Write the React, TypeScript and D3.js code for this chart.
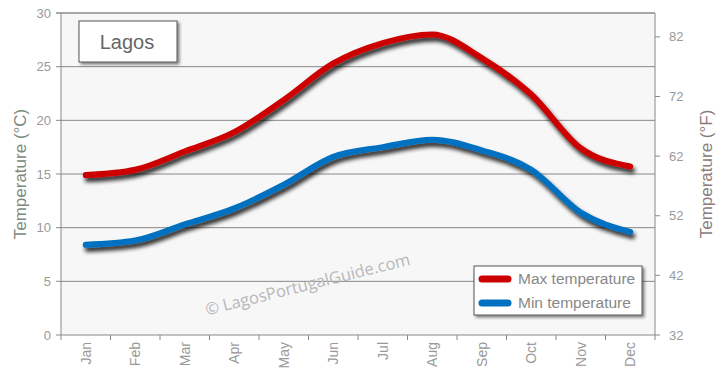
import React from "react";
import * as d3 from "d3";

const months = ["Jan","Feb","Mar","Apr","May","Jun","Jul","Aug","Sep","Oct","Nov","Dec"];
const maxTemp = [14.9, 15.4, 17.1, 18.9, 21.9, 25.3, 27.2, 28.0, 25.8, 22.4, 17.4, 15.7];
const minTemp = [8.4, 8.8, 10.3, 11.8, 14.0, 16.6, 17.5, 18.2, 17.2, 15.4, 11.4, 9.6];
const cTicks = [0, 5, 10, 15, 20, 25, 30];
const fTicks = [32, 42, 52, 62, 72, 82];
const title = "Lagos";
const legendLabels = ["Max temperature", "Min temperature"];
const colors = ["#cc0000", "#0070c0"];

export default function App() {
  const W = 720, H = 380;
  const L = 61, R = 655, T = 13, B = 335;
  const x = d3.scaleBand<string>().domain(months).range([L, R]);
  const y = d3.scaleLinear().domain([0, 30]).range([B, T]);
  const yF = d3.scaleLinear().domain([32, 86]).range([B, T]);
  const line = d3.line<number>()
    .x((_, i) => (x(months[i]) as number) + x.bandwidth() / 2)
    .y(d => y(d))
    .curve(d3.curveMonotoneX);
  const series = [maxTemp, minTemp];
  const font = "Arial, 'Liberation Sans', sans-serif";
  return (
    <svg width={W} height={H} style={{ position: "absolute", left: 0, top: 0 }} fontFamily={font}>
      <defs>
        <filter id="sh" x="-10%" y="-20%" width="130%" height="150%">
          <feGaussianBlur in="SourceAlpha" stdDeviation="2" />
          <feOffset dx="2" dy="3.5" result="b" />
          <feComponentTransfer><feFuncA type="linear" slope="0.85" /></feComponentTransfer>
          <feMerge><feMergeNode /><feMergeNode in="SourceGraphic" /></feMerge>
        </filter>
        <filter id="bsh" x="-10%" y="-20%" width="130%" height="150%">
          <feGaussianBlur in="SourceAlpha" stdDeviation="1.5" />
          <feOffset dx="2" dy="2" />
          <feComponentTransfer><feFuncA type="linear" slope="0.5" /></feComponentTransfer>
          <feMerge><feMergeNode /><feMergeNode in="SourceGraphic" /></feMerge>
        </filter>
      </defs>
      <rect x={0} y={0} width={W} height={H} fill="#fff" />
      <rect x={L} y={T} width={R - L} height={B - T} fill="#f7f7f7" />
      {cTicks.map(t => (
        <g key={t}>
          <line x1={L - 5} x2={R} y1={y(t)} y2={y(t)} stroke={t === 30 ? "#555" : "#888"} strokeWidth={1} />
          <text x={L - 10} y={y(t)} dy="0.35em" textAnchor="end" fontSize={13} fill="#999">{t}</text>
        </g>
      ))}
      <line x1={L} x2={L} y1={T} y2={B + 5} stroke="#888" />
      <line x1={R} x2={R} y1={T} y2={B} stroke="#888" />
      {fTicks.map(t => (
        <g key={t}>
          <line x1={R} x2={R + 5} y1={yF(t)} y2={yF(t)} stroke="#888" />
          <text x={R + 14} y={yF(t)} dy="0.35em" textAnchor="start" fontSize={13} fill="#999">{t}</text>
        </g>
      ))}
      {months.map((m) => {
        const bx = x(m) as number;
        const cx = bx + x.bandwidth() / 2;
        return (
          <g key={m}>
            <line x1={bx + x.bandwidth()} x2={bx + x.bandwidth()} y1={B} y2={B + 5} stroke="#888" />
            <text transform={`translate(${cx + 5},${B + 7}) rotate(-90)`} textAnchor="end" fontSize={14} fill="#999">{m}</text>
          </g>
        );
      })}
      <text transform={`translate(26,${(T + B) / 2}) rotate(-90)`} textAnchor="middle" fontSize={17} fill="#7b8b7b">Temperature (°C)</text>
      <text transform={`translate(712,${(T + B) / 2}) rotate(-90)`} textAnchor="middle" fontSize={17} fill="#8b7b7b">Temperature (°F)</text>
      <text transform="translate(309,290) rotate(-14)" textAnchor="middle" fontSize={16.5} fill="#b8b8b8" fontFamily="'Open Sans', sans-serif">© LagosPortugalGuide.com</text>
      {series.map((s, k) => (
        <path key={k} d={line(s) as string} fill="none" stroke={colors[k]} strokeWidth={6} strokeLinecap="round" filter="url(#sh)" />
      ))}
      <g filter="url(#bsh)">
        <rect x={79} y={21} width={98} height={41} fill="#fff" stroke="#555" />
      </g>
      <text x={127} y={49} textAnchor="middle" fontSize={20} fill="#666">{title}</text>
      <g filter="url(#bsh)">
        <rect x={474} y={266} width={168} height={49} fill="#fff" stroke="#555" />
      </g>
      {legendLabels.map((lbl, k) => (
        <g key={lbl}>
          <line x1={482} x2={508} y1={279 + k * 24} y2={279 + k * 24} stroke={colors[k]} strokeWidth={7} strokeLinecap="round" />
          <text x={518} y={279 + k * 24} dy="0.35em" fontSize={15.5} fill="#888">{lbl}</text>
        </g>
      ))}
    </svg>
  );
}
